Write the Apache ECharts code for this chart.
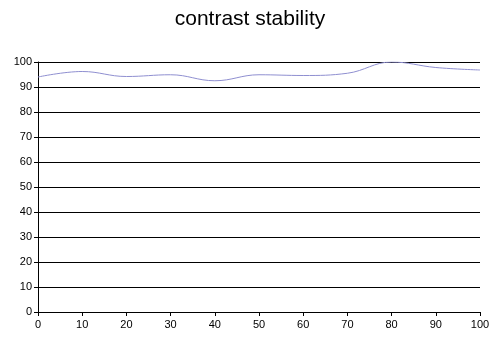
<!DOCTYPE html>
<html><head><meta charset="utf-8">
<script src="https://cdn.jsdelivr.net/npm/echarts@6/dist/echarts.min.js"></script>
<style>html,body{margin:0;padding:0;background:#fff}#c{width:500px;height:345px}</style>
</head><body><div id="c"></div>
<script>
const titleText = "contrast stability";
const xValues = [0, 10, 20, 30, 40, 50, 60, 70, 80, 90, 100];
const yValues = [94.0, 96.2, 94.2, 94.9, 92.5, 94.9, 94.6, 95.5, 100.0, 97.8, 96.8];

const chart = echarts.init(document.getElementById('c'), null, {renderer: 'canvas'});
const font = 'Liberation Sans, Arial, sans-serif';
chart.setOption({
  animation: false,
  backgroundColor: '#ffffff',
  title: {
    text: titleText, left: 'center', top: 4,
    textStyle: {fontFamily: font, fontSize: 21, fontWeight: 'normal', color: '#000'}
  },
  grid: {left: 38, right: 20, top: 62, bottom: 33, containLabel: false},
  xAxis: {
    type: 'value', min: 0, max: 100, interval: 10,
    axisLine: {show: true, onZero: false, lineStyle: {color: '#000', width: 1}},
    axisTick: {show: true, length: 4, inside: false, lineStyle: {color: '#000'}},
    axisLabel: {fontFamily: font, fontSize: 11, color: '#000', margin: 7},
    splitLine: {show: false}
  },
  yAxis: {
    type: 'value', min: 0, max: 100, interval: 10,
    axisLine: {show: true, lineStyle: {color: '#000', width: 1}},
    axisTick: {show: true, length: 4, inside: false, lineStyle: {color: '#000'}},
    axisLabel: {fontFamily: font, fontSize: 11, color: '#000', margin: 6},
    splitLine: {show: true, lineStyle: {color: '#000', width: 1}}
  },
  series: [{
    type: 'line',
    data: xValues.map((x, i) => [x, yValues[i]]),
    smooth: 0.4,
    showSymbol: false,
    clip: true,
    z: 5,
    lineStyle: {color: '#8f8fd0', width: 1}
  }]
});
</script></body></html>
